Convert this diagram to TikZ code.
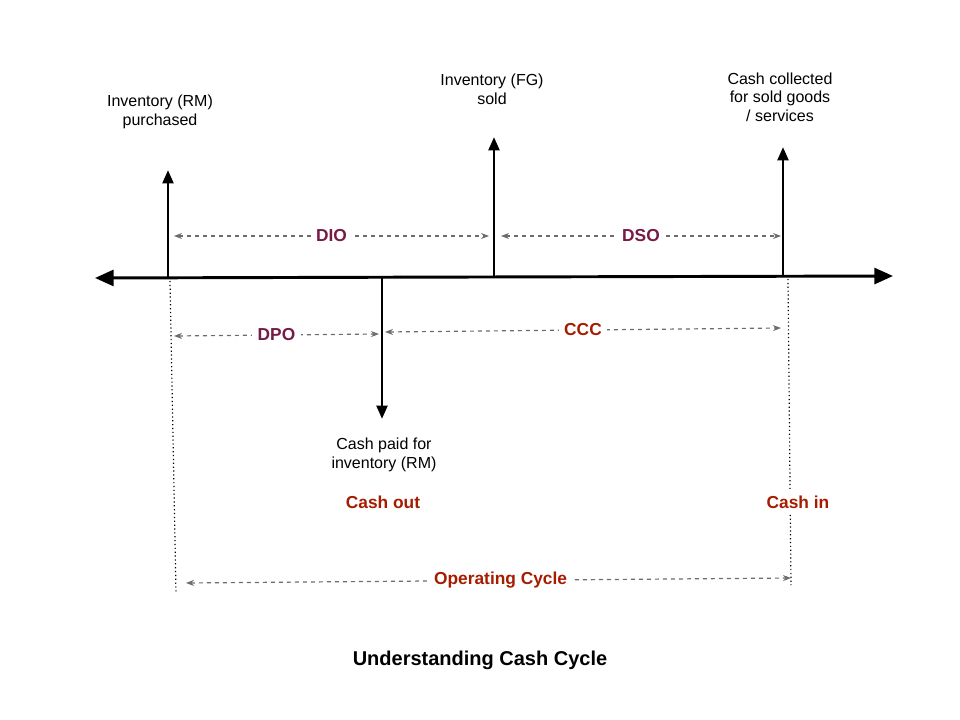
\documentclass[tikz,border=0pt]{standalone}
\usepackage{fontspec}
\setmainfont{Liberation Sans}
\usetikzlibrary{arrows.meta}
\definecolor{plum}{HTML}{741B47}
\definecolor{brick}{HTML}{A61C00}
\begin{document}
\begin{tikzpicture}[x=0.75pt,y=-0.75pt,
  axis/.style={line width=2.2pt,-{Triangle[length=14pt,width=12pt]}},
  vert/.style={line width=2.2pt,-{Triangle[length=10pt,width=8pt]}},
  dim/.style={gray!85!black,dashed,line width=0.9pt,{Stealth[length=6pt]}-{Stealth[length=6pt]}},
  dotl/.style={dotted,line width=0.9pt},
  lbl/.style={font=\fontsize{12}{14}\selectfont,align=center},
  tag/.style={font=\bfseries\fontsize{13}{15}\selectfont,fill=white,inner sep=4pt}]
\useasboundingbox (0,0) rectangle (960,720);
\coordinate (L) at (95,278); \coordinate (R) at (893,276);
\draw[axis] (400,277.2) -- (L);
\draw[axis] (400,277.2) -- (R);
\coordinate (a0) at (168,278); \coordinate (a1) at (168,170);
\coordinate (b0) at (494,277); \coordinate (b1) at (494,137);
\coordinate (c0) at (783,275); \coordinate (c1) at (783,147);
\coordinate (d0) at (382,277); \coordinate (d1) at (382,419);
\draw[vert] (a0) -- (a1);
\draw[vert] (b0) -- (b1);
\draw[vert] (c0) -- (c1);
\draw[vert] (d0) -- (d1);
\node[lbl] (t1) at (160,112) {Inventory (RM)\\purchased};
\node[lbl] (t2) at (492,89) {Inventory (FG)\\sold};
\node[lbl] (t3) at (780,97) {Cash collected\\for sold goods\\/ services};
\node[lbl] (t4) at (384,455) {Cash paid for\\inventory (RM)};
\coordinate (p1) at (170,281); \coordinate (p2) at (176,593);
\coordinate (q1) at (788,279); \coordinate (q2) at (791,585);
\draw[dotl] (p1) -- (p2);
\draw[dotl] (q1) -- (q2);
\coordinate (e1) at (174,236); \coordinate (e2) at (489,236);
\coordinate (e3) at (501,236); \coordinate (e4) at (781,236);
\coordinate (f1) at (174,336); \coordinate (f2) at (379,334);
\coordinate (f3) at (385,332); \coordinate (f4) at (781,328);
\coordinate (g1) at (186,583); \coordinate (g2) at (791,578);
\draw[dim] (e1) -- node[tag,text=plum] (dio) {DIO} (e2);
\draw[dim] (e3) -- node[tag,text=plum] (dso) {DSO} (e4);
\draw[dim] (f1) -- node[tag,text=plum] (dpo) {DPO} (f2);
\draw[dim] (f3) -- node[tag,text=brick,pos=0.5] (ccc) {CCC} (f4);
\draw[dim] (g1) -- node[tag,text=brick,pos=0.52] (oc) {Operating Cycle} (g2);
\node[tag,text=brick] (co) at (383,502) {Cash out};
\node[tag,text=brick] (ci) at (798,502) {Cash in};
\node[font=\bfseries\fontsize{15}{18}\selectfont] (title) at (480,660) {Understanding Cash Cycle};
\end{tikzpicture}
\end{document}
